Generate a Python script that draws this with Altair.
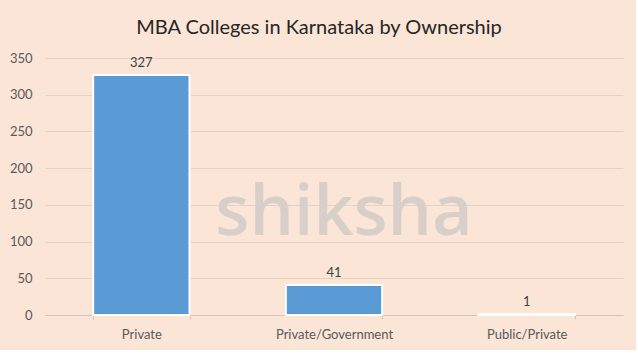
import altair as alt
import pandas as pd

categories = ["Private", "Private/Government", "Public/Private"]
counts = [327, 41, 1]
y_ticks = [0, 50, 100, 150, 200, 250, 300, 350]
watermark_text = ["shiksha"]

df = pd.DataFrame({"ownership": categories, "count": counts})
wm_df = pd.DataFrame({"label": watermark_text})

FONT = "Lato"

x_enc = alt.X(
    "ownership:N",
    sort=categories,
    title=None,
    scale=alt.Scale(paddingInner=0.5, paddingOuter=0.25),
    axis=alt.Axis(
        labelAngle=0,
        labelFont=FONT,
        labelFontSize=13,
        labelColor="#595959",
        labelPadding=9,
        domainColor="#d0c4bb",
        tickColor="#d0c4bb",
        tickBand="extent",
        tickSize=4,
        grid=False,
    ),
)
y_axis = alt.Axis(
    values=y_ticks,
    labelOverlap=False,
    labelFont=FONT,
    labelFontSize=13,
    labelColor="#595959",
    labelPadding=13,
    domain=False,
    ticks=False,
    gridColor="#e6d2c5",
    gridWidth=1,
)
y_enc = alt.Y("count:Q", title=None, scale=alt.Scale(domain=[0, 350]), axis=y_axis)

watermark = alt.Chart(wm_df).mark_text(
    font="Open Sans",
    fontSize=70,
    fontWeight=600,
    color="#d8d0c8",
    align="center",
    baseline="bottom",
).encode(x=alt.value(299), y=alt.value(192), text="label:N")

bars = alt.Chart(df).mark_bar(
    color="#5b9bd5", stroke="white", strokeWidth=2
).encode(x=x_enc, y=y_enc)

labels = alt.Chart(df).mark_text(
    dy=-5, baseline="bottom", font=FONT, fontSize=13, color="#404040"
).encode(x=alt.X("ownership:N", sort=categories), y=y_enc, text="count:Q")

chart = (
    alt.layer(watermark, bars, labels)
    .properties(
        width=578,
        height=257,
        autosize=alt.AutoSizeParams(type="none"),
        padding={"left": 45, "top": 58, "right": 13, "bottom": 35},
        background="#fbe5d6",
        title=alt.TitleParams(
            "MBA Colleges in Karnataka by Ownership",
            font=FONT,
            fontSize=20,
            fontWeight="normal",
            color="#262626",
            anchor="middle",
            dx=-15,
            offset=14,
        ),
    )
    .configure_view(stroke=None)
)

chart.save("out.html", embed_options={"renderer": "svg", "actions": False})
